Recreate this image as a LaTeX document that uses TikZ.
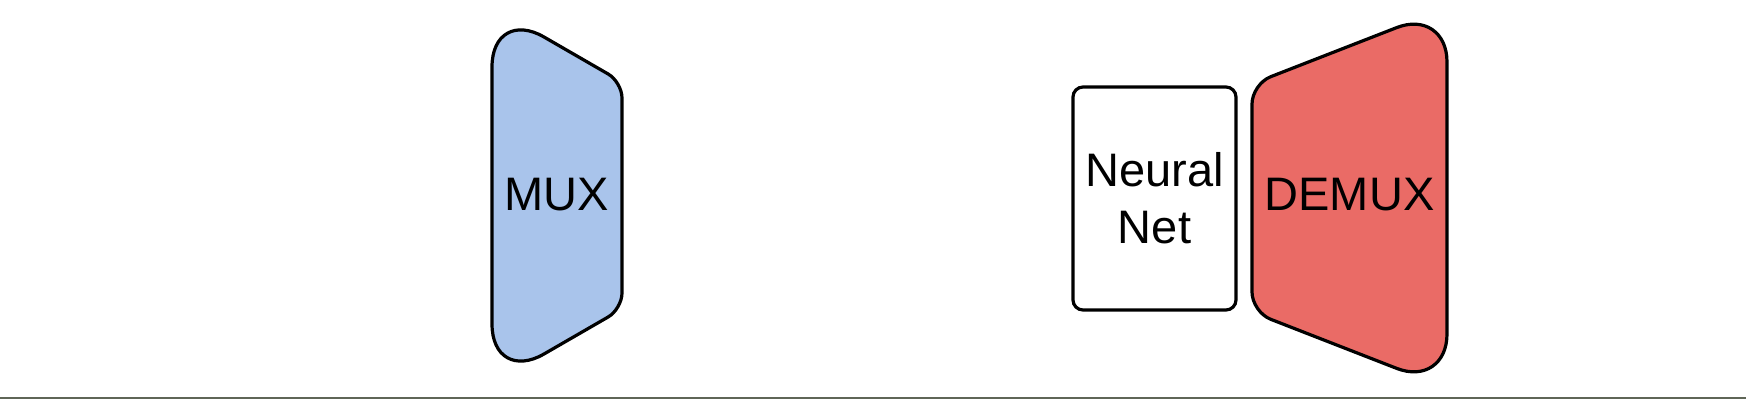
\documentclass[tikz,border=0pt]{standalone}
\usepackage{fontspec}
\setmainfont{Liberation Sans}
\usepackage{tikz}
\definecolor{muxblue}{HTML}{A9C4EB}
\definecolor{demuxred}{HTML}{EA6B66}
\definecolor{rulegray}{HTML}{5F6657}
\tikzset{
  block/.style={draw=black, line width=1.6pt, line join=round},
  blocktext/.style={font=\fontsize{23.5}{28.5}\selectfont, align=center}
}
\begin{document}
\begin{tikzpicture}[x=0.5pt, y=-0.5pt]
        \useasboundingbox (0,0) rectangle (1746,400);

        %multiplexer on the left
        \draw[block, fill=muxblue] (492,195) [rounded corners=30pt] -- (492,7)
            [rounded corners=8pt] -- (622,82) -- (622,309) [rounded corners=30pt] -- (492,384) -- cycle;
        \node[blocktext] (mux) at (557,195) {MUX};

        %network and demultiplexer on the right
        \node[block, rounded corners=5pt, minimum width=81.5pt, minimum height=111.5pt,
            blocktext] (net) at (1154.5,198.5) {Neural\\Net};
        \draw[block, fill=demuxred] (1252,198) [rounded corners=10pt] -- (1252,84)
            [rounded corners=27pt] -- (1447,8) -- (1447,388) [rounded corners=10pt] -- (1252,312) -- cycle;
        \node[blocktext] (demux) at (1349.5,195) {DEMUX};

        \coordinate (ruleL) at (0,398.5);
        \coordinate (ruleR) at (1746,398.5);
        \draw[rulegray, line width=1pt] (ruleL) -- (ruleR);
\end{tikzpicture}
\end{document}
